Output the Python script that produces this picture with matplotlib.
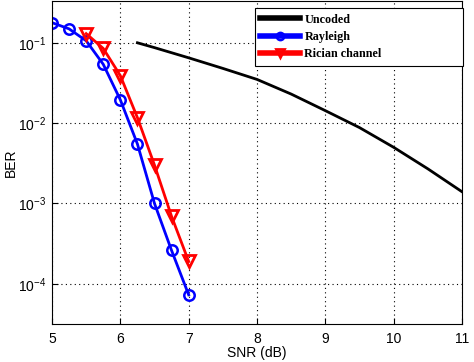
import matplotlib
matplotlib.use("Agg")
import matplotlib.pyplot as plt
import numpy as np

snr_ray = [5, 5.25, 5.5, 5.75, 6, 6.25, 6.5, 6.75, 7]
ber_ray = [0.178, 0.149, 0.106, 0.054, 0.0195, 0.0055, 0.001, 2.6e-4, 7.3e-5]

snr_ric = [5.5, 5.75, 6, 6.25, 6.5, 6.75, 7]
ber_ric = [0.13, 0.085, 0.039, 0.0117, 0.003, 6.9e-4, 1.9e-4]

snr_unc = [6.25, 6.5, 7, 7.5, 8, 8.5, 9, 9.5, 10, 10.5, 11]
ber_unc = [0.1, 0.087, 0.065, 0.048, 0.035, 0.023, 0.0143, 0.0088, 0.005, 0.0027, 0.0014]

xticks = [5, 6, 7, 8, 9, 10, 11]

plt.rcParams['font.family'] = ['Liberation Sans', 'DejaVu Sans']
fig = plt.figure(figsize=(4.74, 3.62), dpi=100)
ax = fig.add_axes([52/474, 1-324/362, 410/474, 323/362])

ax.semilogy(snr_unc, ber_unc, color='black', lw=2, label='Uncoded')
ax.semilogy(snr_ray, ber_ray, color='blue', lw=2, marker='o', ms=7.5, mfc='none', mew=1.8, label='Rayleigh')
ax.semilogy(snr_ric, ber_ric, color='red', lw=2, marker='v', ms=8, mfc='none', mew=2, label='Rician channel')

ax.set_xlim(5, 11)
ax.set_ylim(10**-4.5, 10**-0.48)
ax.set_xticks(xticks)
ax.set_xticklabels([str(t) for t in xticks])
ax.set_yticks([1e-4, 1e-3, 1e-2, 1e-1])
ax.yaxis.set_minor_locator(matplotlib.ticker.NullLocator())
ax.tick_params(direction='in', labelsize=10, length=4)
ax.tick_params(axis='x', pad=6)
ax.tick_params(axis='y', pad=4)
ax.grid(True, which='major', color='black', linestyle=(0, (1, 3)), lw=0.8)
ax.set_xlabel('SNR (dB)', fontsize=10, labelpad=0)
ax.set_ylabel('BER', fontsize=10)
ax.yaxis.set_label_coords(-0.083, 0.5)

leg = ax.legend(loc='upper left', bbox_to_anchor=(0.495, 0.978, 0.507, 0.0),
                mode='expand',
                prop={'family': 'Liberation Serif', 'weight': 'bold', 'size': 8.7},
                fancybox=False, edgecolor='black', framealpha=1,
                handlelength=3.3, handletextpad=0.35, borderpad=0.45, labelspacing=0.45,
                borderaxespad=0, markerscale=0.7)
leg.get_frame().set_linewidth(0.8)
for l in leg.get_lines():
    l.set_linewidth(4)

fig.savefig('out.png', dpi=100)
